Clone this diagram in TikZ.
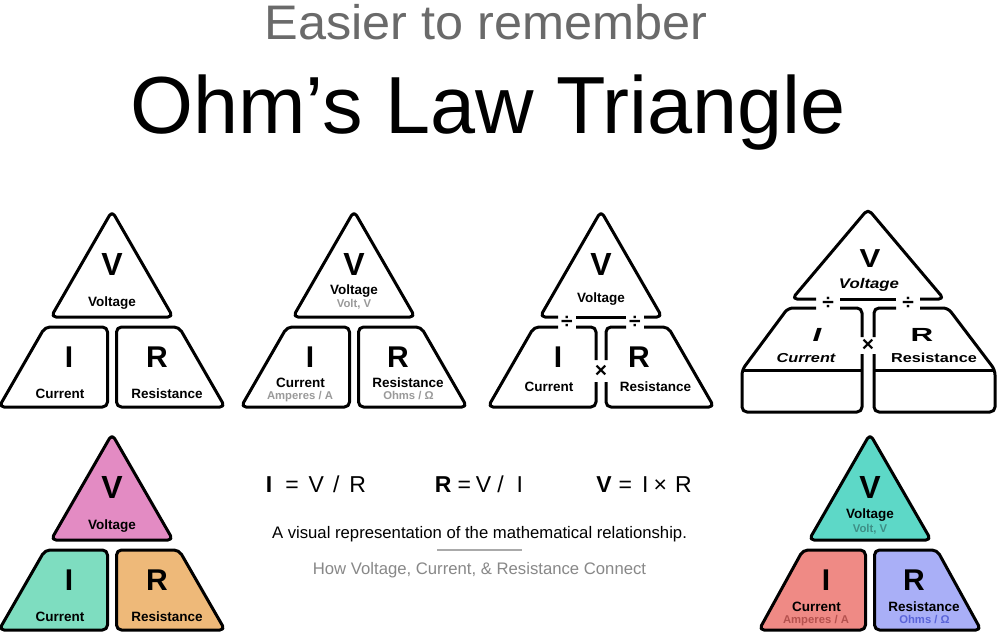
\documentclass[tikz,border=0pt]{standalone}
\usepackage{fontspec}
\setmainfont{Liberation Sans}
\definecolor{titlegray}{HTML}{6A6A6A}
\definecolor{subgray}{HTML}{9A9A9A}
\definecolor{linegray}{HTML}{AAAAAA}
\definecolor{howgray}{HTML}{888888}
\definecolor{pinkc}{HTML}{E38BC3}
\definecolor{greenc}{HTML}{7EDDC0}
\definecolor{orangec}{HTML}{EEB979}
\definecolor{tealc}{HTML}{5DD8C7}
\definecolor{salmonc}{HTML}{EF8A85}
\definecolor{lavc}{HTML}{A9AFF7}
\definecolor{tealtxt}{HTML}{3E8F86}
\definecolor{redtxt}{HTML}{B5524F}
\definecolor{bluetxt}{HTML}{5A64D8}
\begin{document}
\begin{tikzpicture}[x=1pt,y=-1pt,
  shp/.style={line width=3pt, rounded corners=5pt, line join=round},
  seg/.style={line width=3pt, rounded corners=5pt, line join=round},
  bigv/.style={anchor=base, inner sep=0, font=\bfseries\fontsize{32}{32}\selectfont},
  bigl/.style={anchor=base, inner sep=0, font=\bfseries\fontsize{30}{30}\selectfont},
  lbl/.style={anchor=base, inner sep=0, font=\bfseries\fontsize{13.5}{13.5}\selectfont},
  sub/.style={anchor=base, inner sep=0, font=\bfseries\fontsize{11.3}{11.3}\selectfont, text=subgray},
  sym/.style={inner sep=0, font=\bfseries\fontsize{21}{21}\selectfont},
  frm/.style={anchor=base, inner sep=0, font=\fontsize{23}{23}\selectfont},
  txt/.style={anchor=base, inner sep=0, font=\fontsize{16.7}{16.7}\selectfont}
]
\useasboundingbox (0,0) rectangle (1000,632);
\fill[white] (0,0) rectangle (1000,632);

% titles
\node[anchor=base, inner sep=0, font=\fontsize{48.5}{48.5}\selectfont, text=titlegray] (easier) at (486,39) {\scalebox{1.04}[1]{Easier to remember}};
\node[anchor=base, inner sep=0, font=\fontsize{81}{81}\selectfont] (title) at (488,133) {Ohm’s Law Triangle};

% ---------- triangle 1 ----------
\begin{scope}[shift={(112,0)}]
 \draw[shp] (0,211) -- (61,317) -- (-61,317) -- cycle;
 \draw[shp] (-67,327) -- (-4.5,327) -- (-4.5,407) -- (-113,407) -- cycle;
 \draw[shp] (4.5,327) -- (67,327) -- (113,407) -- (4.5,407) -- cycle;
 \node[bigv] (aV) at (0,275) {V};
 \node[lbl] (av) at (0,306) {Voltage};
 \node[bigl] (aI) at (-43,367) {I};
 \node[bigl] (aR) at (45,367) {R};
 \node[lbl] (ac) at (-52,398) {Current};
 \node[lbl] (ar) at (55,398) {Resistance};
\end{scope}

% ---------- triangle 2 ----------
\begin{scope}[shift={(354,0)}]
 \draw[shp] (0,211) -- (61,317) -- (-61,317) -- cycle;
 \draw[shp] (-67,327) -- (-4.5,327) -- (-4.5,407) -- (-113,407) -- cycle;
 \draw[shp] (4.5,327) -- (67,327) -- (113,407) -- (4.5,407) -- cycle;
 \node[bigv] (bV) at (0,275) {V};
 \node[lbl] (bv) at (0,294) {Voltage};
 \node[sub] (bvs) at (0,307) {Volt, V};
 \node[bigl] (bI) at (-44,367) {I};
 \node[bigl] (bR) at (44,367) {R};
 \node[lbl] (bc) at (-53.5,387) {Current};
 \node[sub] (bcs) at (-54,399) {Amperes / A};
 \node[lbl] (br) at (54,387) {Resistance};
 \node[sub] (brs) at (54.5,399) {Ohms / Ω};
\end{scope}

% ---------- triangle 3 ----------
\begin{scope}[shift={(601,0)}]
 \draw[seg] (-43,317) -- (-61,317) -- (0,211) -- (61,317) -- (43,317);
 \draw[seg] (-25,317) -- (25,317);
 \draw[seg] (-43,327) -- (-67,327) -- (-113,407) -- (-5,407) -- (-5,382);
 \draw[seg] (-25,327) -- (-5,327) -- (-5,360);
 \draw[seg] (43,327) -- (67,327) -- (113,407) -- (5,407) -- (5,382);
 \draw[seg] (25,327) -- (5,327) -- (5,360);
 \node[sym] (cd1) at (-34,322) {÷};
 \node[sym] (cd2) at (34,322) {÷};
 \node[sym] (cx) at (0,371) {×};
 \node[bigv] (cV) at (0,275) {V};
 \node[lbl] (cv) at (0,302) {Voltage};
 \node[bigl] (cI) at (-43,367) {I};
 \node[bigl] (cR) at (38,367) {R};
 \node[lbl] (cc) at (-52,391) {Current};
 \node[lbl] (cr) at (54.5,391) {Resistance};
\end{scope}

% ---------- triangle 4 (3D) ----------
\begin{scope}[shift={(868,0)}]
 \draw[seg] (-52,299) -- (-76,299) -- (0,209) -- (76,299) -- (52,299);
 \draw[seg] (-28,299) -- (28,299);
 \draw[seg] (-52,308) -- (-80,308) -- (-126,370) -- (-126,412) -- (-6,412) -- (-6,354);
 \draw[line width=3pt] (-126,370) -- (-6,370);
 \draw[seg] (-28,308) -- (-6,308) -- (-6,337);
 \draw[seg] (52,308) -- (80,308) -- (127,370) -- (127,412) -- (6,412) -- (6,354);
 \draw[line width=3pt] (127,370) -- (6,370);
 \draw[seg] (28,308) -- (6,308) -- (6,337);
 \node[sym] (dd1) at (-40,303.5) {÷};
 \node[sym] (dd2) at (40,303.5) {÷};
 \node[sym] (dx) at (0,345) {×};
 \node[anchor=base, inner sep=0, font=\bfseries\fontsize{26}{26}\selectfont] (dV) at (2,267) {\scalebox{1.2}[1]{V}};
 \node[anchor=base, inner sep=0, font=\bfseries\itshape\fontsize{14}{14}\selectfont] (dv) at (1,288) {\scalebox{1.2}[1]{Voltage}};
 \node[anchor=base, inner sep=0, font=\bfseries\itshape\fontsize{19}{19}\selectfont] (dI) at (-51,341) {\scalebox{1.65}[1]{I}};
 \node[anchor=base, inner sep=0, font=\bfseries\fontsize{19}{19}\selectfont] (dR) at (54,341) {\scalebox{1.65}[1]{R}};
 \node[anchor=base, inner sep=0, font=\bfseries\itshape\fontsize{13}{13}\selectfont] (dc) at (-62,362) {\scalebox{1.25}[1]{Current}};
 \node[anchor=base, inner sep=0, font=\bfseries\fontsize{13}{13}\selectfont] (dr) at (66,362) {\scalebox{1.25}[1]{Resistance}};
\end{scope}

% ---------- triangle 5 (coloured) ----------
\begin{scope}[shift={(112,223)}]
 \draw[shp, fill=pinkc] (0,211) -- (61,317) -- (-61,317) -- cycle;
 \draw[shp, fill=greenc] (-67,327) -- (-4.5,327) -- (-4.5,407) -- (-113,407) -- cycle;
 \draw[shp, fill=orangec] (4.5,327) -- (67,327) -- (113,407) -- (4.5,407) -- cycle;
 \node[bigv] (eV) at (0,275) {V};
 \node[lbl] (ev) at (0,306) {Voltage};
 \node[bigl] (eI) at (-43,367) {I};
 \node[bigl] (eR) at (45,367) {R};
 \node[lbl] (ec) at (-52,398) {Current};
 \node[lbl] (er) at (55,398) {Resistance};
\end{scope}

% ---------- triangle 6 (coloured) ----------
\begin{scope}[shift={(870,223)}]
 \draw[shp, fill=tealc] (0,211) -- (61,317) -- (-61,317) -- cycle;
 \draw[shp, fill=salmonc] (-67,327) -- (-4.5,327) -- (-4.5,407) -- (-111,407) -- cycle;
 \draw[shp, fill=lavc] (4.5,327) -- (67,327) -- (111,407) -- (4.5,407) -- cycle;
 \node[bigv] (fV) at (0,275) {V};
 \node[lbl] (fv) at (0,295) {Voltage};
 \node[sub, text=tealtxt] (fvs) at (0,309) {Volt, V};
 \node[bigl] (fI) at (-44,367) {I};
 \node[bigl] (fR) at (44,367) {R};
 \node[lbl] (fc) at (-53.5,388) {Current};
 \node[sub, text=redtxt] (fcs) at (-54,400) {Amperes / A};
 \node[lbl] (fr) at (54,388) {Resistance};
 \node[sub, text=bluetxt] (frs) at (54.5,400) {Ohms / Ω};
\end{scope}

% ---------- formulas and captions ----------
\node[frm] (f1) at (316,492) {\textbf{I}\hspace{13pt}=\hspace{10pt}V\hspace{9pt}/\hspace{10pt}R};
\node[frm] (f2) at (479,492) {\textbf{R}\hspace{6pt}=\hspace{5pt}V\hspace{6pt}/\hspace{13pt}I};
\node[frm] (f3) at (644,492) {\textbf{V}\hspace{7pt}=\hspace{10pt}I\hspace{5pt}×\hspace{8pt}R};
\node[txt] (desc) at (479.5,538) {A visual representation of the mathematical relationship.};
\draw[line width=1.5pt, linegray] (437,550) -- (522,550);
\node[txt, text=howgray] (how) at (479.5,574) {How Voltage, Current, \& Resistance Connect};
\end{tikzpicture}
\end{document}
